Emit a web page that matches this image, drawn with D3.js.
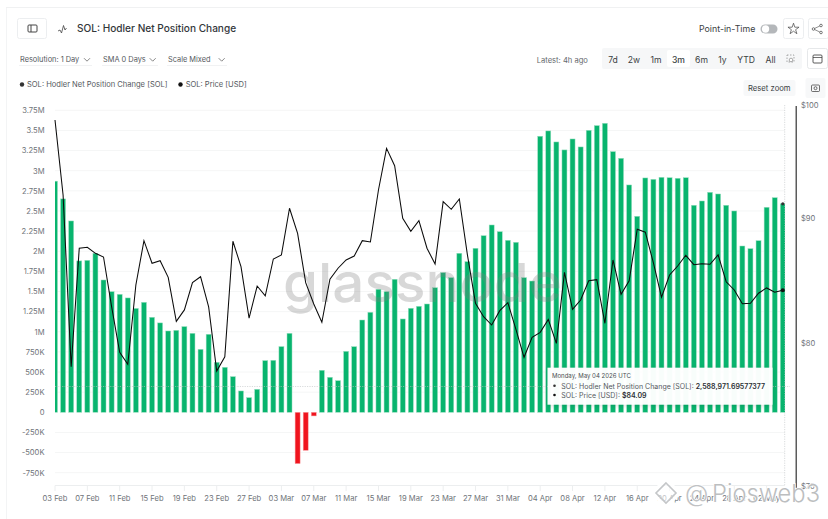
<!DOCTYPE html>
<html><head><meta charset="utf-8">
<script src="https://cdn.jsdelivr.net/npm/d3@7/dist/d3.min.js"></script>
<style>
html,body{margin:0;padding:0;background:#fff;width:828px;height:519px;overflow:hidden}
text{font-family:Inter,"Noto Sans",sans-serif}
</style></head><body><svg id="c" width="828" height="519"></svg>
<script>
const startDate = "2026-02-03";
const holderChange = [2.87,2.65,2.376,1.88,1.887,1.975,1.643,1.498,1.465,1.42,1.29,1.366,1.18,1.11,1.01,1.018,1.064,0.981,0.782,0.969,0.621,0.559,0.443,0.265,0.182,0.286,0.642,0.646,0.816,0.981,-0.637,-0.472,-0.045,0.522,0.435,0.393,0.757,0.815,1.146,1.242,1.528,1.498,1.652,1.159,1.292,1.316,1.345,1.547,1.734,1.672,1.975,1.871,2.037,2.193,2.326,2.243,2.136,2.111,1.672,1.63,3.428,3.494,3.357,3.258,3.394,3.295,3.502,3.56,3.589,3.237,3.154,2.823,2.434,2.91,2.893,2.918,2.913,2.906,2.913,2.571,2.624,2.732,2.711,2.571,2.5,2.065,2.032,2.131,2.546,2.665,2.589];
const price = [98.65,91.95,78.27,87.47,87.55,87.05,86.75,82.80,79.33,78.44,84.50,88.09,86.24,86.45,85.11,81.67,82.55,84.69,85.16,82.78,77.95,79.00,88.04,85.97,81.91,84.42,83.64,86.59,86.92,90.81,88.70,84.69,83.01,81.60,84.96,85.84,86.51,86.83,88.09,87.98,92.38,96.06,94.51,89.96,88.87,89.76,87.47,86.18,91.37,90.72,91.60,86.92,83.06,82.03,81.39,82.49,83.11,81.06,78.96,80.46,80.83,81.82,80.00,85.51,82.60,83.32,84.84,84.93,81.52,86.51,83.77,84.84,89.04,88.79,86.27,83.54,85.30,86.02,86.89,86.13,86.21,86.16,86.92,84.76,84.11,83.03,83.06,83.85,84.27,83.93,84.09];
const leftTicks = [3.75,3.5,3.25,3,2.75,2.5,2.25,2,1.75,1.5,1.25,1,0.75,0.5,0.25,0,-0.25,-0.5,-0.75];
const leftTickLabels = ["3.75M","3.5M","3.25M","3M","2.75M","2.5M","2.25M","2M","1.75M","1.5M","1.25M","1M","750K","500K","250K","0","-250K","-500K","-750K"];
const rightTicks = [100,90,80,70];
const dateTickLabels = ["03 Feb","07 Feb","11 Feb","15 Feb","19 Feb","23 Feb","27 Feb","03 Mar","07 Mar","11 Mar","15 Mar","19 Mar","23 Mar","27 Mar","31 Mar","04 Apr","08 Apr","12 Apr","16 Apr","20 Apr","24 Apr","28 Apr","02 May"];
const rangeButtons = ["7d","2w","1m","3m","6m","1y","YTD","All"];
const legendItems = ["SOL: Hodler Net Position Change [SOL]","SOL: Price [USD]"];

const svg = d3.select("#c");
const ink="#1f2329", grey="#6f7479", muted="#55595e";
const day=86400000, t0=new Date(startDate+"T00:00:00Z").getTime();
const dates=holderChange.map((_,i)=>new Date(t0+i*day));
const x=d3.scaleUtc().domain([dates[0],dates[90]]).range([55,782.8]);
const yL=d3.scaleLinear().domain([0,3.75]).range([412.3,110.3]);
const yR=d3.scaleLog().domain([70,100]).range([485.7,105.5]);

function txt(g,s,px,py,size,fill,anchor,weight){return g.append("text").attr("x",px).attr("y",py).attr("font-size",size).attr("fill",fill).attr("text-anchor",anchor||"start").attr("font-weight",weight||400).text(s);}
function box(px,py,w,h,stroke,fill,r){return svg.append("rect").attr("x",px).attr("y",py).attr("width",w).attr("height",h).attr("rx",r||2).attr("fill",fill||"#fff").attr("stroke",stroke||"none");}

// page frame
svg.append("line").attr("x1",6).attr("x2",828).attr("y1",7.5).attr("y2",7.5).attr("stroke","#f0f1f2");
svg.append("line").attr("x1",6.5).attr("x2",6.5).attr("y1",8).attr("y2",519).attr("stroke","#f3f4f5");

// header
box(17.5,18.5,29,20,"#eceef0");
svg.append("rect").attr("x",28).attr("y",25).attr("width",9).attr("height",7).attr("rx",1).attr("fill","none").attr("stroke","#444");
svg.append("line").attr("x1",31).attr("x2",31).attr("y1",25).attr("y2",32).attr("stroke","#444");
svg.append("path").attr("d",d3.line()([[58,31],[60,30],[61.5,33],[63.5,25.5],[65,30],[66.5,28]])).attr("fill","none").attr("stroke","#444").attr("stroke-width",.8);
txt(svg,"SOL: Hodler Net Position Change",77,32.3,10.1,"#33373b","start",500);

// dropdowns
[["Resolution: 1 Day",20,87,92],["SMA 0 Days",103,152.7,158],["Scale Mixed",168,221.7,227]].forEach(d=>{
 txt(svg,d[0],d[1],62.3,7.4,muted);
 svg.append("path").attr("d",`M${d[2]-3},58.2L${d[2]},61.2L${d[2]+3},58.2`).attr("fill","none").attr("stroke","#555").attr("stroke-width",.7);
 svg.append("line").attr("x1",d[1]-1).attr("x2",d[3]).attr("y1",65.5).attr("y2",65.5).attr("stroke","#f1f2f3");
});

// legend
txt(svg,legendItems[0],27,87.2,7.55,muted);
txt(svg,legendItems[1],185.7,87.2,7.55,muted);
svg.append("circle").attr("cx",22).attr("cy",84.5).attr("r",2.2).attr("fill","#333");
svg.append("circle").attr("cx",180.5).attr("cy",84.5).attr("r",2.2).attr("fill","#111");

// right header
txt(svg,"Point-in-Time",699,32,8.8,"#3a3e42");
svg.append("rect").attr("x",760.5).attr("y",24.5).attr("width",17).attr("height",9).attr("rx",4.5).attr("fill","#b4b7ba");
svg.append("circle").attr("cx",765.5).attr("cy",29).attr("r",3.7).attr("fill","#fff");
box(783.5,18.5,20,20,"#eceef0");
svg.append("path").attr("d",d3.symbol().type(d3.symbolStar).size(38)()).attr("transform","translate(793.5,29)").attr("fill","none").attr("stroke","#444").attr("stroke-width",.7);
box(808.5,18.5,20,20,"#eceef0");
[[813.5,29],[821,25.5],[821,32.5]].forEach(p=>svg.append("circle").attr("cx",p[0]).attr("cy",p[1]).attr("r",1.3).attr("fill","none").attr("stroke","#444").attr("stroke-width",.7));
svg.append("path").attr("d","M814.7,28.4L819.8,26M814.7,29.6L819.8,32").attr("stroke","#444").attr("stroke-width",.6).attr("fill","none");

// range bar
txt(svg,"Latest: 4h ago",536.7,62.8,7.6,"#666a6e");
svg.append("rect").attr("x",602).attr("y",48).attr("width",200).attr("height",21).attr("rx",2).attr("fill","#f6f7f8");
svg.append("rect").attr("x",667).attr("y",50).attr("width",23).attr("height",17).attr("rx",2).attr("fill","#fff");
const rangeX=[613,634,656,678.5,701.5,722.5,746,770.5];
rangeButtons.forEach((b,i)=>txt(svg,b,rangeX[i],62.5,8.6,"#3a3e42","middle",b==="3m"?500:400));
svg.append("rect").attr("x",787).attr("y",55).attr("width",7).attr("height",7).attr("fill","none").attr("stroke","#777").attr("stroke-width",.6).attr("stroke-dasharray","1.5 1.5");
svg.append("circle").attr("cx",791).attr("cy",60).attr("r",1.8).attr("fill","#fff").attr("stroke","#777").attr("stroke-width",.6);
box(807.5,48.5,20,20,"#e6e8ea");
svg.append("rect").attr("x",813).attr("y",55).attr("width",9).attr("height",8).attr("rx",1).attr("fill","none").attr("stroke","#333").attr("stroke-width",.8);
svg.append("line").attr("x1",813).attr("x2",822).attr("y1",57.5).attr("y2",57.5).attr("stroke","#333").attr("stroke-width",.7);

svg.append("rect").attr("x",743.5).attr("y",80).attr("width",52).attr("height",16).attr("rx",2).attr("fill","#f7f8f9");
txt(svg,"Reset zoom",769.3,90.5,7.7,"#3a3e42","middle");
svg.append("rect").attr("x",805.5).attr("y",78).attr("width",20).attr("height",20).attr("rx",2).attr("fill","#f7f8f9");
svg.append("rect").attr("x",811.5).attr("y",85).attr("width",8).attr("height",6.5).attr("rx",1).attr("fill","none").attr("stroke","#333").attr("stroke-width",.7);
svg.append("circle").attr("cx",815.5).attr("cy",88.2).attr("r",1.5).attr("fill","none").attr("stroke","#333").attr("stroke-width",.7);

// grid
const plot=svg.append("g");
plot.selectAll("line.g").data(leftTicks.filter(d=>d!==0)).join("line").attr("class","g")
 .attr("x1",55).attr("x2",785).attr("y1",d=>yL(d)).attr("y2",d=>yL(d)).attr("stroke","#f5f6f6");
// left axis labels
plot.selectAll("text.l").data(leftTicks).join("text").attr("class","l")
 .attr("x",44.5).attr("y",d=>yL(d)+2.8).attr("text-anchor","end").attr("font-size",7.6).attr("fill",grey)
 .text((d,i)=>leftTickLabels[i]);
// x axis
svg.append("line").attr("x1",55).attr("x2",785).attr("y1",485.5).attr("y2",485.5).attr("stroke","#eceeef");
const tickDates=dateTickLabels.map((_,i)=>new Date(t0+i*4*day));
plot.selectAll("line.t").data(tickDates).join("line").attr("class","t")
 .attr("x1",d=>x(d)).attr("x2",d=>x(d)).attr("y1",485.5).attr("y2",491).attr("stroke","#eceeef");
plot.selectAll("text.x").data(tickDates).join("text").attr("class","x")
 .attr("x",d=>x(d)).attr("y",501).attr("text-anchor","middle").attr("font-size",7.6).attr("fill",grey)
 .text((d,i)=>dateTickLabels[i]);

// clip so first bar starts at the plot's left edge
svg.append("clipPath").attr("id","pc").append("rect").attr("x",55).attr("y",100).attr("width",730).attr("height",386);
const bw=5;
svg.append("g").attr("clip-path","url(#pc)").selectAll("rect").data(holderChange).join("rect")
 .attr("x",(d,i)=>x(dates[i])-bw/2)
 .attr("width",bw)
 .attr("y",d=>Math.min(yL(d),yL(0)))
 .attr("height",d=>Math.abs(yL(d)-yL(0)))
 .attr("fill",d=>d<0?"#f0141e":"#08b46e")
 .attr("stroke",d=>d<0?"#f8a0a4":"#9be0c2")
 .attr("stroke-width",.5);

// glassnode watermark
svg.append("text").attr("x",283).attr("y",302).attr("font-size",54).attr("font-weight",500)
 .attr("textLength",279).attr("lengthAdjust","spacingAndGlyphs")
 .attr("fill","#7f7f7f").attr("opacity",.3).text("glassnode");

// crosshair
svg.append("line").attr("x1",55).attr("x2",790).attr("y1",386.5).attr("y2",386.5).attr("stroke","#bfc2c4").attr("stroke-width",.6).attr("stroke-dasharray","1.2 1.2");
svg.append("line").attr("x1",784.7).attr("x2",784.7).attr("y1",105).attr("y2",485).attr("stroke","#bfc2c4").attr("stroke-width",.6).attr("stroke-dasharray","1.2 1.2");

// price line
svg.append("path").attr("d",d3.line().x((d,i)=>x(dates[i])).y(d=>yR(d))(price))
 .attr("fill","none").attr("stroke","#0b0b0b").attr("stroke-width",1.05).attr("stroke-linejoin","miter");
svg.append("circle").attr("cx",x(dates[90])).attr("cy",yR(price[90])).attr("r",2).attr("fill","#111");
svg.append("circle").attr("cx",x(dates[90])).attr("cy",yL(holderChange[90])).attr("r",1.6).attr("fill","#333");

// right axis
svg.append("line").attr("x1",796.2).attr("x2",796.2).attr("y1",106).attr("y2",488).attr("stroke","#333").attr("stroke-width",1.2);
plot.selectAll("text.r").data(rightTicks).join("text").attr("class","r")
 .attr("x",801).attr("y",d=>yR(d)+2.8).attr("font-size",7.6).attr("fill",grey).text(d=>"$"+d);

// tooltip
const defs=svg.append("defs");
const f=defs.append("filter").attr("id","sh").attr("x","-10%").attr("y","-30%").attr("width","120%").attr("height","160%");
f.append("feDropShadow").attr("dx",0).attr("dy",1).attr("stdDeviation",2).attr("flood-color","#000").attr("flood-opacity",.15);
svg.append("rect").attr("x",547.5).attr("y",367.7).attr("width",225).attr("height",37).attr("fill","#fff").attr("fill-opacity",.97).attr("filter","url(#sh)");
txt(svg,"Monday, May 04 2026 UTC",552,378.3,6.05,"#4a4e52");
svg.append("circle").attr("cx",554.5).attr("cy",385.7).attr("r",1.3).attr("fill","#333");
svg.append("circle").attr("cx",554.5).attr("cy",395).attr("r",1.3).attr("fill","#111");
const tl=txt(svg,legendItems[0]+": ",561.3,388.5,7,"#55595e");
tl.append("tspan").attr("font-weight",600).attr("fill","#2b2f33").text("2,588,971.69577377");
const tp=txt(svg,legendItems[1]+": ",561.3,397.8,7,"#55595e");
tp.append("tspan").attr("font-weight",600).attr("fill","#2b2f33").text("$84.09");

// corner watermark
const wm=svg.append("g");
wm.append("path").attr("d","M666,479L680,493L666,507L652,493Z").attr("fill","#fff").attr("fill-opacity",.6).attr("stroke","#fff").attr("stroke-width",3);
wm.append("path").attr("d","M666,483L676,493L666,503L656,493Z").attr("fill","none").attr("stroke","#c4c6c8").attr("stroke-width",1.6);
wm.append("text").attr("x",685).attr("y",502).attr("font-size",24).attr("font-weight",300).attr("fill","#c0c2c4").attr("stroke","#fff").attr("stroke-width",1.5).attr("paint-order","stroke").text("@");
wm.append("text").attr("x",712).attr("y",502).attr("font-size",24).attr("font-weight",300).attr("fill","#bcbec0").attr("stroke","#fff").attr("stroke-width",1.5).attr("paint-order","stroke").attr("textLength",108).attr("lengthAdjust","spacingAndGlyphs").text("Piosweb3");
</script></body></html>
